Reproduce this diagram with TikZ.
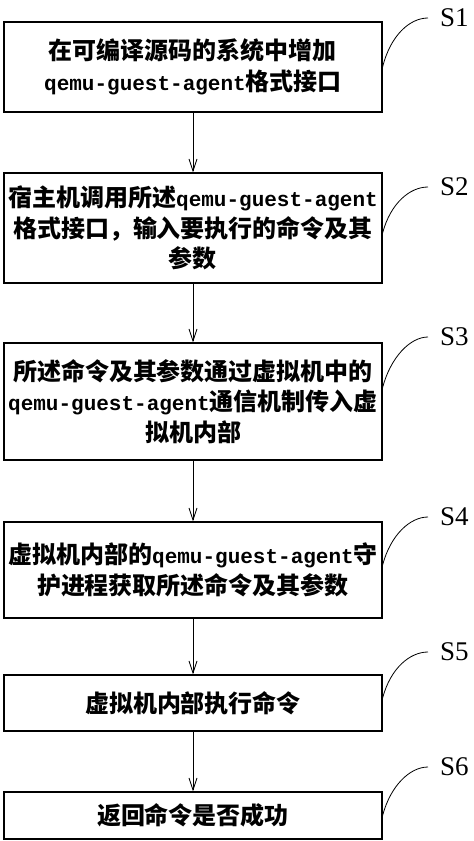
\documentclass[tikz,border=0pt]{standalone}
\usepackage{fontspec}
\usetikzlibrary{arrows.meta}
\setmainfont{Liberation Serif}
\setmonofont{Liberation Mono}
\newfontfamily\cjk{Noto Sans CJK SC}
\newcommand\qga{{\fontsize{21pt}{30pt}\selectfont\ttfamily\bfseries qemu-guest-agent}}
\begin{document}
\begin{tikzpicture}[
  x=1pt, y=-1pt,
  stepbox/.style={draw, line width=1.2pt, text width=374pt, align=center, inner sep=2pt,
    font=\cjk\bfseries\fontsize{24pt}{30.5pt}\selectfont},
  steplabel/.style={anchor=west, inner sep=0pt, font=\fontsize{27pt}{30pt}\selectfont},
  leader/.style={line width=0.8pt},
  flow/.style={line width=0.9pt, -{Straight Barb[length=12pt,width=8pt]}}
]
  \useasboundingbox (0,0) rectangle (474,841);

  % steps
  \node[stepbox, minimum height=90pt]  (s1) at (193,67)    {在可编译源码的系统中增加\\\qga{}格式接口};
  \node[stepbox, minimum height=110pt] (s2) at (193,228)   {宿主机调用所述\qga\\格式接口，输入要执行的命令及其\\参数};
  \node[stepbox, minimum height=117pt] (s3) at (193,401.5) {所述命令及其参数通过虚拟机中的\\\qga{}通信机制传入虚\\拟机内部};
  \node[stepbox, minimum height=96pt]  (s4) at (193,570)   {虚拟机内部的\qga{}守\\护进程获取所述命令及其参数};
  \node[stepbox, minimum height=56pt]  (s5) at (193,703)   {虚拟机内部执行命令};
  \node[stepbox, minimum height=47pt]  (s6) at (193,815.5) {返回命令是否成功};

  % step labels
  \node[steplabel] (l1) at (440,18)  {S1};
  \node[steplabel] (l2) at (440,187) {S2};
  \node[steplabel] (l3) at (440,337) {S3};
  \node[steplabel] (l4) at (440,517) {S4};
  \node[steplabel] (l5) at (440,652) {S5};
  \node[steplabel] (l6) at (440,767) {S6};

  % flow
  \draw[flow] (s1) -- (s2);
  \draw[flow] (s2) -- (s3);
  \draw[flow] (s3) -- (s4);
  \draw[flow] (s4) -- (s5);
  \draw[flow] (s5) -- (s6);

  % leaders
  \draw[leader] (s1.east) .. controls +(8,-32) and +(-18,0) .. ([xshift=-12pt]l1.west);
  \draw[leader] ([yshift=-5pt]s2.east) .. controls +(8,-30) and +(-18,0) .. ([xshift=-12pt]l2.west);
  \draw[leader] ([yshift=14pt]s3.east) .. controls +(8,-30) and +(-18,0) .. ([xshift=-12pt]l3.west);
  \draw[leader] ([yshift=5pt]s4.east) .. controls +(8,-30) and +(-18,0) .. ([xshift=-12pt]l4.west);
  \draw[leader] ([yshift=5pt]s5.east) .. controls +(8,-30) and +(-18,0) .. ([xshift=-12pt]l5.west);
  \draw[leader] (s6.east) .. controls +(8,-30) and +(-18,0) .. ([xshift=-12pt]l6.west);
\end{tikzpicture}
\end{document}
